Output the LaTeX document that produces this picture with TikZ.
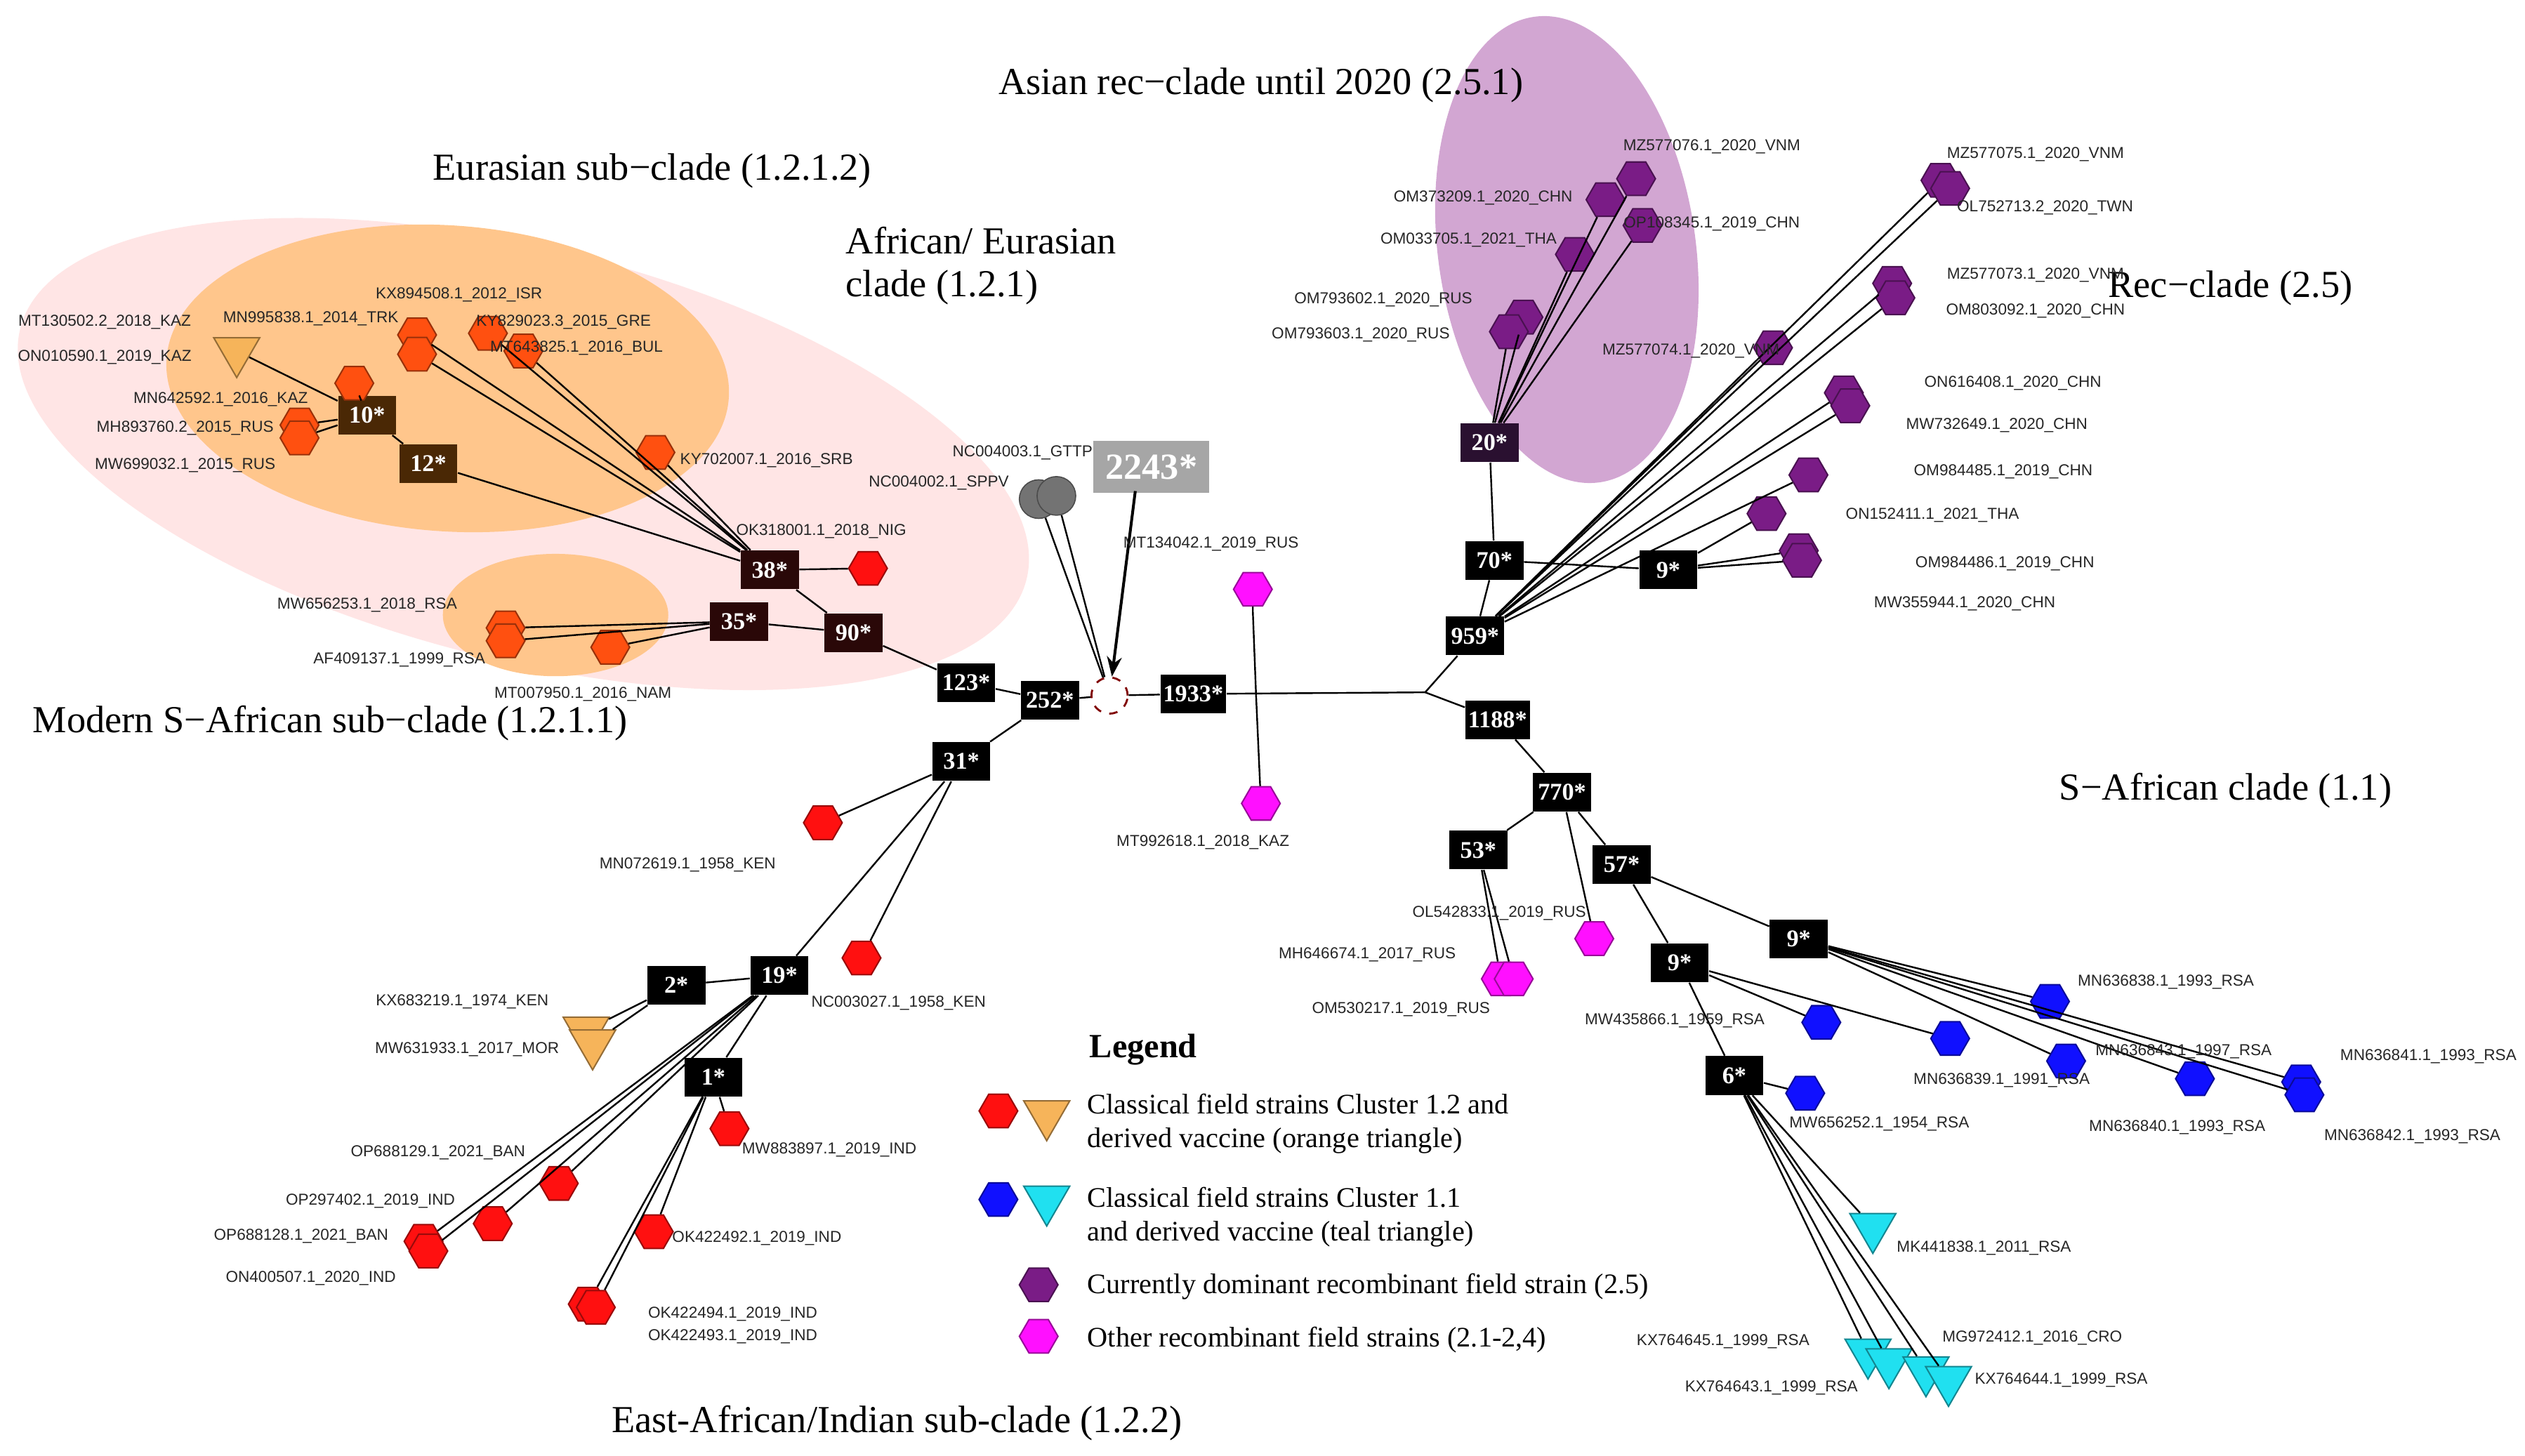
\documentclass[tikz,border=0pt]{standalone}
\usepackage{fontspec}
\setmainfont{Liberation Serif}
\newfontfamily\lsans{Liberation Sans}
\usetikzlibrary{shapes.geometric,arrows.meta}
\definecolor{cred}{HTML}{FF1010}
\definecolor{cora}{HTML}{FF5010}
\definecolor{cpur}{HTML}{7A1C86}
\definecolor{cmag}{HTML}{FF10FF}
\definecolor{cblu}{HTML}{1010FF}
\definecolor{ccya}{HTML}{20E0F0}
\definecolor{ctri}{HTML}{F6B45A}
\definecolor{cbrn}{HTML}{4A2805}
\definecolor{cdbr}{HTML}{2A0808}
\definecolor{cdpu}{HTML}{2A1030}
\tikzset{
 hex/.style={regular polygon,regular polygon sides=6,minimum size=0.48cm,inner sep=0pt,draw=#1!60!black,fill=#1,line width=0.5pt},
 tri/.style={regular polygon,regular polygon sides=3,shape border rotate=180,minimum size=0.66cm,inner sep=0pt,draw=#1!60!black,fill=#1,line width=0.5pt},
 lab/.style={font=\lsans\fontsize{5.6}{6}\selectfont,inner sep=0pt,text=black!85},
 tit/.style={font=\fontsize{13.5}{15}\selectfont,inner sep=0pt,align=left},
 bx/.style={fill=#1,text=white,font=\bfseries\fontsize{8.5}{9}\selectfont,minimum width=0.72cm,minimum height=0.48cm,inner sep=1pt},
 bx/.default=black,
 edge/.style={line width=0.6pt,black},
 leg/.style={font=\fontsize{10}{12}\selectfont,inner sep=0pt,anchor=west},
}
\begin{document}
\begin{tikzpicture}[x=0.02cm,y=-0.02cm]
\useasboundingbox (0,0) rectangle (1568,904);
% ellipses
\fill[pink!40] (325,282) ellipse[x radius=322,y radius=128,rotate=-14];
\fill[orange!45] (278,235) ellipse[x radius=175,y radius=95,rotate=-4];
\fill[orange!45] (345,382) ellipse[x radius=70,y radius=38];
\fill[violet!35] (973,155) ellipse[x radius=80,y radius=146,rotate=8];
% titles
\node[tit] (t1) at (783,53) {Asian rec\textminus clade until 2020 (2.5.1)};
\node[tit] (t2) at (405,106) {Eurasian sub\textminus clade (1.2.1.2)};
\node[tit,align=left,anchor=west] (t3) at (525,165) {African/ Eurasian\\clade (1.2.1)};
\node[tit] (t4) at (1385,179) {Rec\textminus clade (2.5)};
\node[tit] (t5) at (205,449) {Modern S\textminus African sub\textminus clade (1.2.1.1)};
\node[tit] (t6) at (1382,491) {S\textminus African clade (1.1)};
\node[tit] (t7) at (557,884) {East-African/Indian sub-clade (1.2.2)};
% internal boxes
\node[fill=black!35,text=white,font=\bfseries\fontsize{13}{14}\selectfont,minimum width=1.44cm,minimum height=0.64cm,inner sep=1pt] (big) at (715,290) {2243*};
\node[circle,draw=red!50!black,dashed,minimum size=0.45cm,inner sep=0pt,line width=0.7pt] (ctr) at (689,432) {};
\coordinate (J) at (885,430);
\coordinate (M) at (780,432);
\coordinate (Mt) at (778,380);
\coordinate (A) at (705,305);
\node[bx] (n123) at (600,424) {123*};
\node[bx] (n252) at (652,435) {252*};
\node[bx] (n1933) at (741,431) {1933*};
\node[bx=cdbr] (n90) at (530,393) {90*};
\node[bx=cdbr] (n35) at (459,386) {35*};
\node[bx=cdbr] (n38) at (478,354) {38*};
\node[bx=cbrn] (n12) at (266,288) {12*};
\node[bx=cbrn] (n10) at (228,258) {10*};
\node[bx] (n31) at (597,473) {31*};
\node[bx] (n19) at (484,606) {19*};
\node[bx] (n2) at (420,612) {2*};
\node[bx] (n1) at (443,669) {1*};
\node[bx] (n959) at (916,395) {959*};
\node[bx] (n70) at (928,348) {70*};
\node[bx=cdpu] (n20) at (925,275) {20*};
\node[bx] (n9a) at (1036,354) {9*};
\node[bx] (n1188) at (930,447) {1188*};
\node[bx] (n770) at (970,492) {770*};
\node[bx] (n53) at (918,528) {53*};
\node[bx] (n57) at (1007,537) {57*};
\node[bx] (n9b) at (1117,583) {9*};
\node[bx] (n9c) at (1043,598) {9*};
\node[bx] (n6) at (1077,668) {6*};
% leaves: Eurasian
\node[tri=ctri] (e1) at (147,218) {};
\node[hex=cora] (e2) at (259,208) {};
\node[hex=cora] (e3) at (259,220) {};
\node[hex=cora] (e4) at (303,207) {};
\node[hex=cora] (e5) at (325,218) {};
\node[hex=cora] (e6) at (220,238) {};
\node[hex=cora] (e7) at (186,264) {};
\node[hex=cora] (e8) at (186,272) {};
\node[hex=cora] (e9) at (407,281) {};
\node[hex=cred] (e10) at (539,353) {};
\node[hex=cora] (e11) at (314,390) {};
\node[hex=cora] (e12) at (314,398) {};
\node[hex=cora] (e13) at (379,402) {};
\node[circle,fill=black!55,draw=black!70,minimum size=0.48cm] (g1) at (645,310) {};
\node[circle,fill=black!55,draw=black!70,minimum size=0.48cm] (g2) at (656,308) {};
\node[hex=cmag] (m1) at (778,366) {};
\node[hex=cmag] (m2) at (783,499) {};
% bottom red
\node[hex=cred] (r1) at (511,511) {};
\node[hex=cred] (r2) at (535,595) {};
\node[tri=ctri] (r3) at (364,640) {};
\node[tri=ctri] (r4) at (368,648) {};
\node[hex=cred] (r5) at (453,701) {};
\node[hex=cred] (r6) at (347,735) {};
\node[hex=cred] (r7) at (306,760) {};
\node[hex=cred] (r8) at (263,771) {};
\node[hex=cred] (r9) at (266,777) {};
\node[hex=cred] (r10) at (406,765) {};
\node[hex=cred] (r11) at (365,810) {};
\node[hex=cred] (r12) at (370,812) {};
% purple
\node[hex=cpur] (p1) at (1016,111) {};
\node[hex=cpur] (p2) at (997,124) {};
\node[hex=cpur] (p3) at (1020,140) {};
\node[hex=cpur] (p4) at (978,158) {};
\node[hex=cpur] (p5) at (946,197) {};
\node[hex=cpur] (p6) at (937,206) {};
\node[hex=cpur] (p7) at (1101,216) {};
\node[hex=cpur] (p8) at (1205,112) {};
\node[hex=cpur] (p9) at (1211,117) {};
\node[hex=cpur] (p10) at (1175,176) {};
\node[hex=cpur] (p11) at (1177,185) {};
\node[hex=cpur] (p12) at (1145,244) {};
\node[hex=cpur] (p13) at (1149,252) {};
\node[hex=cpur] (p14) at (1123,295) {};
\node[hex=cpur] (p15) at (1097,319) {};
\node[hex=cpur] (p16) at (1117,342) {};
\node[hex=cpur] (p17) at (1119,348) {};
% S-African
\node[hex=cmag] (s1) at (990,583) {};
\node[hex=cmag] (s2) at (932,608) {};
\node[hex=cmag] (s3) at (940,608) {};
\node[hex=cblu] (s4) at (1131,635) {};
\node[hex=cblu] (s5) at (1211,645) {};
\node[hex=cblu] (s6) at (1273,622) {};
\node[hex=cblu] (s7) at (1283,659) {};
\node[hex=cblu] (s8) at (1363,670) {};
\node[hex=cblu] (s9) at (1429,672) {};
\node[hex=cblu] (s10) at (1431,680) {};
\node[hex=cblu] (s11) at (1121,679) {};
\node[tri=ccya] (s12) at (1163,762) {};
\node[tri=ccya] (s13) at (1160,840) {};
\node[tri=ccya] (s14) at (1173,846) {};
\node[tri=ccya] (s15) at (1196,851) {};
\node[tri=ccya] (s16) at (1210,857) {};
% edges
\draw[edge] (n123) -- (n252) -- (ctr) -- (n1933) -- (J);
\draw[edge] (M) -- (Mt) -- (m1); \draw[edge] (M) -- (m2);
\draw[edge] (ctr) -- (g1); \draw[edge] (ctr) -- (g2);
\draw[edge,-{Stealth[length=7pt]},line width=1pt] (A) -- (ctr);
\draw[edge] (n123) -- (n90) -- (n35) -- (e11); \draw[edge] (n35) -- (e12); \draw[edge] (n35) -- (e13);
\draw[edge] (n90) -- (n38) -- (e10);
\foreach \t in {e2,e3,e4,e5,e9,n12} \draw[edge] (n38) -- (\t);
\draw[edge] (n12) -- (n10);
\foreach \t in {e1,e6,e7,e8} \draw[edge] (n10) -- (\t);
\draw[edge] (n252) -- (n31) -- (r1); \draw[edge] (n31) -- (r2);
\draw[edge] (n31) -- (n19) -- (n2) -- (r3); \draw[edge] (n2) -- (r4);
\foreach \t in {r6,r7,r8,r9} \draw[edge] (n19) -- (\t);
\draw[edge] (n19) -- (n1);
\foreach \t in {r5,r10,r11,r12} \draw[edge] (n1) -- (\t);
\draw[edge] (J) -- (n959) -- (n70) -- (n20);
\foreach \t in {p1,p2,p3,p4,p5,p6} \draw[edge] (n20) -- (\t);
\foreach \t in {p7,p8,p9,p10,p11,p12,p13,p14} \draw[edge] (n959) -- (\t);
\draw[edge] (n70) -- (n9a); \draw[edge] (n9a) -- (p15); \draw[edge] (n9a) -- (p16); \draw[edge] (n9a) -- (p17);
\draw[edge] (J) -- (n1188) -- (n770) -- (n57);
\draw[edge] (n770) -- (n53) -- (s2); \draw[edge] (n53) -- (s3); \draw[edge] (n770) -- (s1);
\draw[edge] (n57) -- (n9b);
\foreach \t in {s6,s7,s8,s9,s10} \draw[edge] (n9b) -- (\t);
\draw[edge] (n57) -- (n9c) -- (s4); \draw[edge] (n9c) -- (s5); \draw[edge] (n9c) -- (n6);
\foreach \t in {s11,s12,s13,s14,s15,s16} \draw[edge] (n6) -- (\t);
% labels
\node[lab] (L1) at (65,200) {MT130502.2\_2018\_KAZ};
\node[lab] (L2) at (65,222) {ON010590.1\_2019\_KAZ};
\node[lab] (L3) at (193,198) {MN995838.1\_2014\_TRK};
\node[lab] (L4) at (285,183) {KX894508.1\_2012\_ISR};
\node[lab] (L5) at (350,200) {KY829023.3\_2015\_GRE};
\node[lab] (L6) at (358,216) {MT643825.1\_2016\_BUL};
\node[lab] (L7) at (137,248) {MN642592.1\_2016\_KAZ};
\node[lab] (L8) at (115,266) {MH893760.2\_2015\_RUS};
\node[lab] (L9) at (115,289) {MW699032.1\_2015\_RUS};
\node[lab] (L10) at (476,286) {KY702007.1\_2016\_SRB};
\node[lab] (L11) at (510,330) {OK318001.1\_2018\_NIG};
\node[lab] (L12) at (228,376) {MW656253.1\_2018\_RSA};
\node[lab] (L13) at (248,410) {AF409137.1\_1999\_RSA};
\node[lab] (L14) at (362,431) {MT007950.1\_2016\_NAM};
\node[lab] (L15) at (635,281) {NC004003.1\_GTTP};
\node[lab] (L16) at (583,300) {NC004002.1\_SPPV};
\node[lab] (L17) at (752,338) {MT134042.1\_2019\_RUS};
\node[lab] (L18) at (747,523) {MT992618.1\_2018\_KAZ};
\node[lab] (L19) at (427,537) {MN072619.1\_1958\_KEN};
\node[lab] (L20) at (558,623) {NC003027.1\_1958\_KEN};
\node[lab] (L21) at (287,622) {KX683219.1\_1974\_KEN};
\node[lab] (L22) at (290,652) {MW631933.1\_2017\_MOR};
\node[lab] (L23) at (515,714) {MW883897.1\_2019\_IND};
\node[lab] (L24) at (272,716) {OP688129.1\_2021\_BAN};
\node[lab] (L25) at (230,746) {OP297402.1\_2019\_IND};
\node[lab] (L26) at (187,768) {OP688128.1\_2021\_BAN};
\node[lab] (L27) at (193,794) {ON400507.1\_2020\_IND};
\node[lab] (L28) at (470,769) {OK422492.1\_2019\_IND};
\node[lab] (L29) at (455,816) {OK422494.1\_2019\_IND};
\node[lab] (L30) at (455,830) {OK422493.1\_2019\_IND};
\node[lab] (L31) at (1063,91) {MZ577076.1\_2020\_VNM};
\node[lab] (L32) at (921,123) {OM373209.1\_2020\_CHN};
\node[lab] (L33) at (1063,139) {OP108345.1\_2019\_CHN};
\node[lab] (L34) at (912,149) {OM033705.1\_2021\_THA};
\node[lab] (L35) at (859,186) {OM793602.1\_2020\_RUS};
\node[lab] (L36) at (845,208) {OM793603.1\_2020\_RUS};
\node[lab] (L37) at (1050,218) {MZ577074.1\_2020\_VNM};
\node[lab] (L38) at (1264,96) {MZ577075.1\_2020\_VNM};
\node[lab] (L39) at (1270,129) {OL752713.2\_2020\_TWN};
\node[lab] (L40) at (1264,171) {MZ577073.1\_2020\_VNM};
\node[lab] (L41) at (1264,193) {OM803092.1\_2020\_CHN};
\node[lab] (L42) at (1250,238) {ON616408.1\_2020\_CHN};
\node[lab] (L43) at (1240,264) {MW732649.1\_2020\_CHN};
\node[lab] (L44) at (1244,293) {OM984485.1\_2019\_CHN};
\node[lab] (L45) at (1200,320) {ON152411.1\_2021\_THA};
\node[lab] (L46) at (1245,350) {OM984486.1\_2019\_CHN};
\node[lab] (L47) at (1220,375) {MW355944.1\_2020\_CHN};
\node[lab] (L48) at (931,567) {OL542833.1\_2019\_RUS};
\node[lab] (L49) at (849,593) {MH646674.1\_2017\_RUS};
\node[lab] (L50) at (870,627) {OM530217.1\_2019\_RUS};
\node[lab] (L51) at (1040,634) {MW435866.1\_1959\_RSA};
\node[lab] (L52) at (1243,671) {MN636839.1\_1991\_RSA};
\node[lab] (L53) at (1345,610) {MN636838.1\_1993\_RSA};
\node[lab] (L54) at (1356,653) {MN636843.1\_1997\_RSA};
\node[lab] (L55) at (1352,700) {MN636840.1\_1993\_RSA};
\node[lab] (L56) at (1508,656) {MN636841.1\_1993\_RSA};
\node[lab] (L57) at (1498,706) {MN636842.1\_1993\_RSA};
\node[lab] (L58) at (1167,698) {MW656252.1\_1954\_RSA};
\node[lab] (L59) at (1232,775) {MK441838.1\_2011\_RSA};
\node[lab] (L60) at (1070,833) {KX764645.1\_1999\_RSA};
\node[lab] (L61) at (1100,862) {KX764643.1\_1999\_RSA};
\node[lab] (L62) at (1262,831) {MG972412.1\_2016\_CRO};
\node[lab] (L63) at (1280,857) {KX764644.1\_1999\_RSA};
% legend
\node[font=\bfseries\fontsize{12}{14}\selectfont] (lg) at (710,652) {Legend};
\node[hex=cred] (lh1) at (620,690) {};
\node[tri=ctri] (lt1) at (650,692) {};
\node[leg,align=left] (lx1) at (675,698) {Classical field strains Cluster 1.2 and\\derived vaccine (orange triangle)};
\node[hex=cblu] (lh2) at (620,745) {};
\node[tri=ccya] (lt2) at (650,745) {};
\node[leg,align=left] (lx2) at (675,756) {Classical field strains Cluster 1.1\\and derived vaccine (teal triangle)};
\node[hex=cpur] (lh3) at (645,798) {};
\node[leg] (lx3) at (675,799) {Currently dominant recombinant field strain (2.5)};
\node[hex=cmag] (lh4) at (645,830) {};
\node[leg] (lx4) at (675,832) {Other recombinant field strains (2.1-2,4)};
\end{tikzpicture}
\end{document}
